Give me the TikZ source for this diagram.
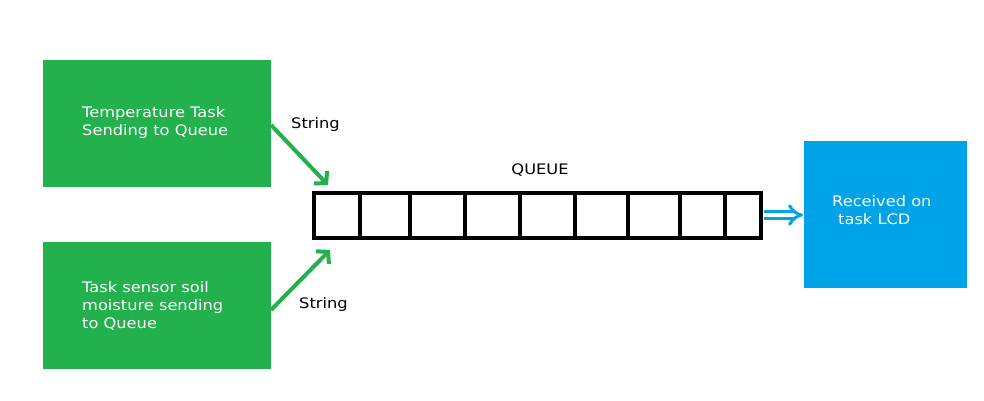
\documentclass[tikz,border=0pt]{standalone}
\usepackage{fontspec}
\setmainfont{DejaVu Sans}[FakeStretch=1.12]
\usetikzlibrary{arrows.meta}
\definecolor{pgreen}{HTML}{22B14C}
\definecolor{pblue}{HTML}{00A2E8}
\begin{document}
\begin{tikzpicture}[x=1pt,y=-1pt,
  lbl/.style={font=\fontsize{14.5}{18}\selectfont,align=left,anchor=north west,inner sep=0pt},
  cell/.style={draw=black,line width=4.5pt}]
\useasboundingbox (0,0) rectangle (984,401);
\fill[pgreen] (43,60) rectangle (271,187);
\node[coordinate] (g1) at (271,125) {};
\fill[pgreen] (43,242) rectangle (271,369);
\node[coordinate] (g2) at (271,310) {};
\fill[pblue] (804,141) rectangle (967,288);
\node[coordinate] (b) at (803,215) {};
\node[lbl,text=white] (t1) at (82,106) {Temperature Task\\Sending to Queue};
\node[lbl,text=white] (t2) at (82,281) {Task sensor soil\\moisture sending\\to Queue};
\node[lbl,text=white] (t3) at (832,195) {Received on\\\hspace*{6pt}task LCD};
\node[lbl] (s1) at (291,117) {String};
\node[lbl] (s2) at (299,297) {String};
\node[lbl,anchor=center] (q) at (540,170) {QUEUE};
\draw[cell] (314,193) rectangle (761,238);
\foreach \x in {360,410,465,520,575,628,680,725}
  \draw[line width=4.5pt] (\x,193) -- (\x,238);
\node[coordinate] (qin1) at (328,185) {};
\node[coordinate] (qin2) at (330,250) {};
\node[coordinate] (qout) at (764,215) {};
\draw[pgreen,line width=4pt,-{Straight Barb[length=8pt,width=18pt,line width=4pt]}] (g1) -- (qin1);
\draw[pgreen,line width=4pt,-{Straight Barb[length=8pt,width=18pt,line width=4pt]}] (g2) -- (qin2);
\draw[pblue,double=white,double distance=4pt,line width=3pt,-{Implies[length=10pt]}] (qout) -- (b);
\end{tikzpicture}
\end{document}
